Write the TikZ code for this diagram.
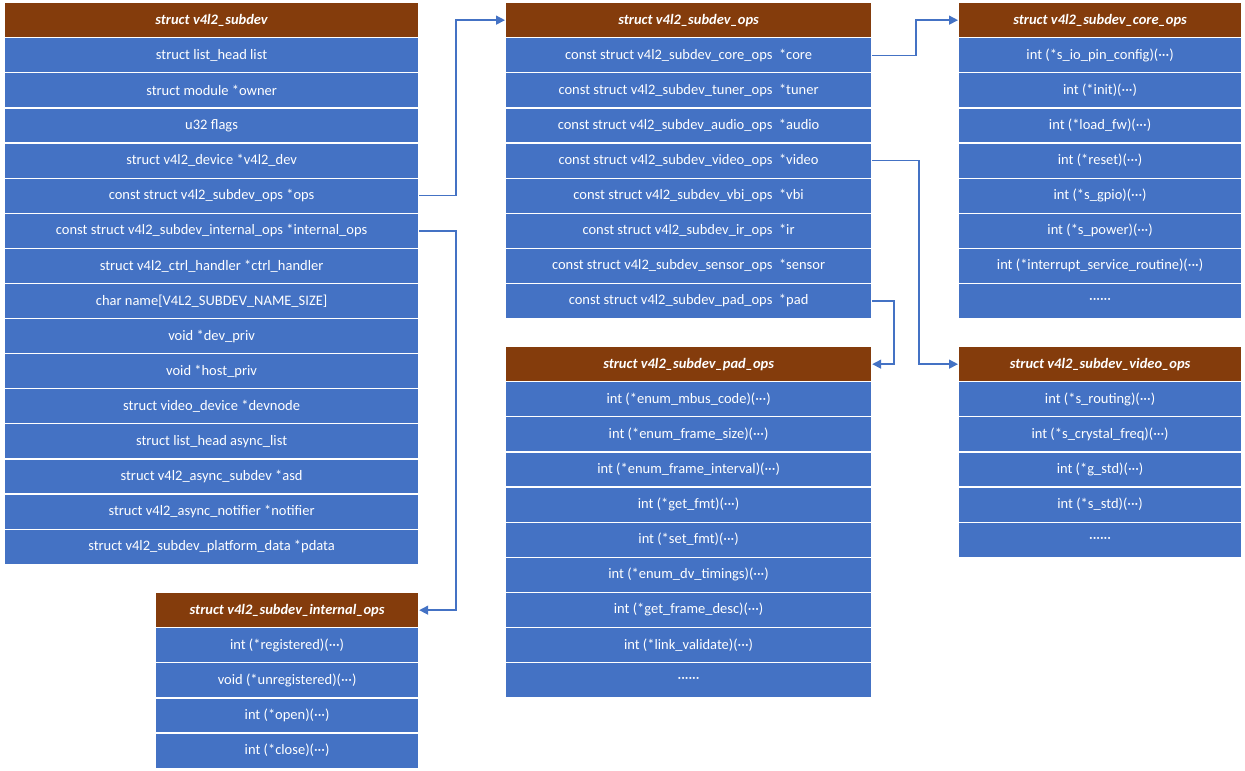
\documentclass[tikz,border=0pt]{standalone}
\usepackage{fontspec}
\setmainfont{Carlito}
\usetikzlibrary{arrows.meta}
\definecolor{hbrown}{HTML}{843C0C}
\definecolor{rblue}{HTML}{4472C4}
\newcommand\mktable[6]{%
  \node[hdr, minimum width=#3pt, anchor=north west] (#1-0) at (#2,#4) {#5};
  \foreach \t [count=\i] in {#6} {
    \node[rowbox, minimum width=#3pt, anchor=north west] (#1-\i) at (#2,{#4+\i*35.1}) {\t};
  }%
}
\begin{document}
\begin{tikzpicture}[x=1pt,y=-1pt,
  cell/.style={draw=white, line width=1.2pt, text=white, minimum height=35.1pt, inner sep=0pt, font=\fontsize{14.5}{16}\selectfont},
  hdr/.style={cell, fill=hbrown, font=\fontsize{14.5}{16}\selectfont\bfseries\itshape},
  rowbox/.style={cell, fill=rblue},
  arr/.style={draw=rblue, line width=1.5pt, -{Triangle[length=9pt,width=9pt]}}]
\useasboundingbox (0,0) rectangle (1245,771);
\mktable{sd}{4}{414}{2}{struct v4l2\_subdev}{{struct list\_head list},{struct module *owner},{u32 flags},{struct v4l2\_device *v4l2\_dev},{const struct v4l2\_subdev\_ops *ops},{const struct v4l2\_subdev\_internal\_ops *internal\_ops},{struct v4l2\_ctrl\_handler *ctrl\_handler},{char name[V4L2\_SUBDEV\_NAME\_SIZE]},{void *dev\_priv},{void *host\_priv},{struct video\_device *devnode},{struct list\_head async\_list},{struct v4l2\_async\_subdev *asd},{struct v4l2\_async\_notifier *notifier},{struct v4l2\_subdev\_platform\_data *pdata}}
\mktable{ops}{505}{366}{2}{struct v4l2\_subdev\_ops}{{const struct v4l2\_subdev\_core\_ops\ \ *core},{const struct v4l2\_subdev\_tuner\_ops\ \ *tuner},{const struct v4l2\_subdev\_audio\_ops\ \ *audio},{const struct v4l2\_subdev\_video\_ops\ \ *video},{const struct v4l2\_subdev\_vbi\_ops\ \ *vbi},{const struct v4l2\_subdev\_ir\_ops\ \ *ir},{const struct v4l2\_subdev\_sensor\_ops\ \ *sensor},{const struct v4l2\_subdev\_pad\_ops\ \ *pad}}
\mktable{core}{958}{283}{2}{struct v4l2\_subdev\_core\_ops}{{int (*s\_io\_pin\_config)(···)},{int (*init)(···)},{int (*load\_fw)(···)},{int (*reset)(···)},{int (*s\_gpio)(···)},{int (*s\_power)(···)},{int (*interrupt\_service\_routine)(···)},{······}}
\mktable{pad}{505}{366}{346}{struct v4l2\_subdev\_pad\_ops}{{int (*enum\_mbus\_code)(···)},{int (*enum\_frame\_size)(···)},{int (*enum\_frame\_interval)(···)},{int (*get\_fmt)(···)},{int (*set\_fmt)(···)},{int (*enum\_dv\_timings)(···)},{int (*get\_frame\_desc)(···)},{int (*link\_validate)(···)},{······}}
\mktable{vid}{958}{283}{346}{struct v4l2\_subdev\_video\_ops}{{int (*s\_routing)(···)},{int (*s\_crystal\_freq)(···)},{int (*g\_std)(···)},{int (*s\_std)(···)},{······}}
\mktable{int}{155}{263}{592}{struct v4l2\_subdev\_internal\_ops}{{int (*registered)(···)},{void (*unregistered)(···)},{int (*open)(···)},{int (*close)(···)}}
\draw[arr] (sd-5.east) -- ++(37,0) |- (ops-0.west);
\draw[arr] (sd-6.east) -- ++(37,0) |- (int-0.east);
\draw[arr] (ops-1.east) -- ++(44,0) |- (core-0.west);
\draw[arr] (ops-4.east) -- ++(47,0) |- (vid-0.west);
\draw[arr] (ops-8.east) -- ++(22,0) |- (pad-0.east);
\end{tikzpicture}
\end{document}
